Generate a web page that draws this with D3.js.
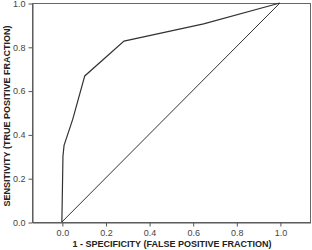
<!DOCTYPE html>
<html>
<head>
<meta charset="utf-8">
<script src="https://cdn.jsdelivr.net/npm/d3@7"></script>
<style>
  body { margin: 0; background: #fff; }
  svg { display: block; font-family: "Liberation Sans", Arial, sans-serif; }
</style>
</head>
<body>
<div id="chart"></div>
<script>
// ROC curve
var fpf = [0, 0.005, 0.01, 0.05, 0.105, 0.285, 0.65, 1.0];
var tpf = [0, 0.30, 0.35, 0.47, 0.667, 0.826, 0.905, 1.0];
var chanceX = [0, 1];
var chanceY = [0, 1];
var xTicks = [0, 0.2, 0.4, 0.6, 0.8, 1.0];
var yTicks = [0, 0.2, 0.4, 0.6, 0.8, 1.0];

var width = 312, height = 250;
var plotLeft = 32, plotRight = 310, plotTop = 3, plotBottom = 222;

var svg = d3.select("#chart").append("svg")
  .attr("width", width)
  .attr("height", height);

var x = d3.scaleLinear().domain([-0.137, 1.138]).range([plotLeft, plotRight]);
var y = d3.scaleLinear().domain([0, 1]).range([plotBottom, plotTop]);

// frame
svg.append("rect")
  .attr("x", plotLeft + 0.5).attr("y", plotTop + 0.5)
  .attr("width", plotRight - plotLeft).attr("height", plotBottom - plotTop)
  .attr("fill", "none")
  .attr("stroke", "#666")
  .attr("stroke-width", 1);

var xAxis = svg.append("g")
  .attr("transform", "translate(0.5," + (plotBottom + 0.5) + ")")
  .call(d3.axisBottom(x).tickValues(xTicks).tickFormat(d3.format(".1f")).tickSize(4).tickPadding(3).tickSizeOuter(0));

var yAxis = svg.append("g")
  .attr("transform", "translate(" + (plotLeft + 0.5) + ",0.5)")
  .call(d3.axisLeft(y).tickValues(yTicks).tickFormat(d3.format(".1f")).tickSize(4).tickPadding(3).tickSizeOuter(0));

[xAxis, yAxis].forEach(function(g) {
  g.select(".domain").attr("stroke", "#555");
  g.selectAll(".tick line").attr("stroke", "#555");
  g.selectAll(".tick text").attr("fill", "#444").style("font-size", "9px");
});

var line = d3.line()
  .x(function(d) { return x(d[0]); })
  .y(function(d) { return y(d[1]); });

svg.append("path")
  .datum(d3.zip(chanceX, chanceY))
  .attr("d", line)
  .attr("fill", "none")
  .attr("stroke", "#333")
  .attr("stroke-width", 1);

svg.append("path")
  .datum(d3.zip(fpf, tpf))
  .attr("d", line)
  .attr("fill", "none")
  .attr("stroke", "#333")
  .attr("stroke-width", 1.2);

// axis titles
svg.append("text")
  .attr("x", 172)
  .attr("y", 247)
  .attr("text-anchor", "middle")
  .style("font-size", "9px")
  .style("font-weight", "bold")
  .attr("fill", "#222")
  .text("1 - SPECIFICITY (FALSE POSITIVE FRACTION)");

svg.append("text")
  .attr("transform", "translate(10,116) rotate(-90)")
  .attr("text-anchor", "middle")
  .style("font-size", "9px")
  .style("font-weight", "bold")
  .attr("fill", "#222")
  .text("SENSITIVITY (TRUE POSITIVE FRACTION)");
</script>
</body>
</html>
